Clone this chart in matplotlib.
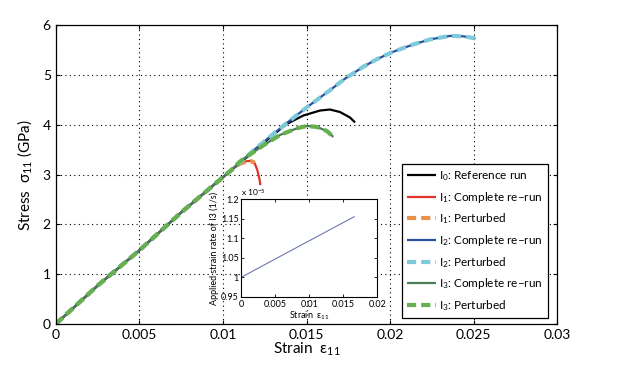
import numpy as np
import matplotlib
matplotlib.use("Agg")
import matplotlib.pyplot as plt
from matplotlib.ticker import FuncFormatter

plt.rcParams['font.family'] = ['Lato', 'DejaVu Sans']
plt.rcParams['mathtext.fontset'] = 'custom'
plt.rcParams['mathtext.rm'] = 'Lato'
plt.rcParams['mathtext.it'] = 'Lato'
plt.rcParams['mathtext.bf'] = 'Lato:bold'

# shared elastic part (strain, GPa)
base_strain = [0.0, 0.0025, 0.005, 0.0075, 0.0100, 0.0106]
base_stress = [0.0, 0.77, 1.48, 2.24, 2.95, 3.12]

# I0 reference run
i0_strain = [0.0112, 0.0118, 0.01282, 0.01382, 0.01481, 0.01581, 0.0164, 0.0170, 0.0176, 0.0179]
i0_stress = [3.29, 3.45, 3.75, 4.02, 4.19, 4.29, 4.31, 4.26, 4.15, 4.05]

# I1 complete re-run / perturbed
i1_strain = [0.0110, 0.0114, 0.0117, 0.0119, 0.01206, 0.01218, 0.01224]
i1_stress = [3.22, 3.27, 3.28, 3.23, 3.09, 2.92, 2.79]
i1p_strain = [0.0110, 0.0114, 0.0117, 0.0119]
i1p_stress = [3.22, 3.26, 3.27, 3.24]

# I2 complete re-run / perturbed
i2_strain = [0.0112, 0.0118, 0.0128, 0.0136, 0.0150, 0.01641, 0.0173, 0.0184, 0.0192,
             0.0201, 0.0214, 0.0224, 0.0236, 0.0244, 0.0251]
i2_stress = [3.30, 3.48, 3.76, 3.98, 4.35, 4.70, 4.93, 5.17, 5.32,
             5.46, 5.62, 5.72, 5.79, 5.78, 5.74]

# I3 complete re-run / perturbed
i3_strain = [0.0110, 0.01142, 0.01242, 0.01342, 0.01441, 0.01501, 0.01561, 0.01621, 0.0166]
i3_stress = [3.26, 3.36, 3.59, 3.80, 3.93, 3.98, 3.96, 3.88, 3.76]

# inset: applied strain rate of I3 (1/s)
rate_strain = [0.0, 0.0083, 0.0166]
rate_value = [1.0e-5, 1.078e-5, 1.1555e-5]

labels = [r'I$_0$: Reference run', r'I$_1$: Complete re–run', r'I$_1$: Perturbed',
          r'I$_2$: Complete re–run', r'I$_2$: Perturbed',
          r'I$_3$: Complete re–run', r'I$_3$: Perturbed']


def full(tail_x, tail_y):
    return np.array(base_strain + tail_x), np.array(base_stress + tail_y)


fig = plt.figure(figsize=(6.31, 3.70), dpi=100)
ax = fig.add_axes([0.0883, 0.1243, 0.795, 0.807])

solid = dict(lw=1.6, solid_capstyle='butt')
dash = dict(lw=3.0, ls=(0, (2.2, 1.2)), dash_capstyle='butt')

ax.plot(*full(i0_strain, i0_stress), color='black', label=labels[0], **solid)
ax.plot(*full(i1_strain, i1_stress), color='#e2332a', label=labels[1], **solid)
ax.plot(*full(i1p_strain, i1p_stress), color='#e8914a', label=labels[2], **dash)
ax.plot(*full(i2_strain, i2_stress), color='#2c4f9e', label=labels[3], **solid)
ax.plot(*full(i2_strain, i2_stress), color='#7fcad8', label=labels[4], **dash)
ax.plot(*full(i3_strain, i3_stress), color='#4a7d57', label=labels[5], **solid)
ax.plot(*full(i3_strain, i3_stress), color='#66b04f', label=labels[6], **dash)

ax.set_xlim(0, 0.03)
ax.set_ylim(0, 6)
ax.set_xticks(np.arange(0, 0.0301, 0.005))
ax.set_yticks(range(0, 7))
fmt = FuncFormatter(lambda v, p: '%g' % round(v, 4))
ax.xaxis.set_major_formatter(fmt)
ax.yaxis.set_major_formatter(fmt)
ax.tick_params(direction='in', top=True, right=True, length=3, labelsize=10, width=0.8)
ax.grid(True, color='black', ls=(0, (1, 3)), lw=0.8)
for s in ax.spines.values():
    s.set_linewidth(0.9)
ax.set_xlabel(r'Strain  ε$_{11}$', fontsize=11, labelpad=0)
ax.set_ylabel(r'Stress  σ$_{11}$ (GPa)', fontsize=11, labelpad=6)

leg = ax.legend(loc='upper left', bbox_to_anchor=(0.6366, 0.5568), bbox_transform=fig.transFigure,
                fontsize=8.5, handlelength=2.45, handletextpad=0.3, labelspacing=0.57,
                borderpad=0.45, fancybox=False, framealpha=1, edgecolor='black', borderaxespad=0)
leg.get_frame().set_linewidth(0.9)

# inset
ins = fig.add_axes([0.3824, 0.198, 0.2155, 0.263])
ins.plot(rate_strain, np.array(rate_value) / 1e-5, color='#6a78b8', lw=0.8)
ins.set_xlim(0, 0.02)
ins.set_ylim(0.95, 1.2)
ins.set_xticks(np.arange(0, 0.0201, 0.005))
ins.set_yticks([0.95, 1.0, 1.05, 1.1, 1.15, 1.2])
ins.xaxis.set_major_formatter(fmt)
ins.yaxis.set_major_formatter(fmt)
ins.tick_params(direction='in', top=True, right=True, length=2, labelsize=6.5, pad=2, width=0.6)
for s in ins.spines.values():
    s.set_linewidth(0.8)
ins.set_xlabel(r'Strain  ε$_{11}$', fontsize=6.5, labelpad=1)
ins.set_ylabel('Applied strain rate of I3 (1/s)', fontsize=6.5, labelpad=1)
ins.text(0.0, 1.01, r'x 10$^{-5}$', transform=ins.transAxes, fontsize=6, va='bottom', ha='left')

fig.savefig('out.png', dpi=100)
